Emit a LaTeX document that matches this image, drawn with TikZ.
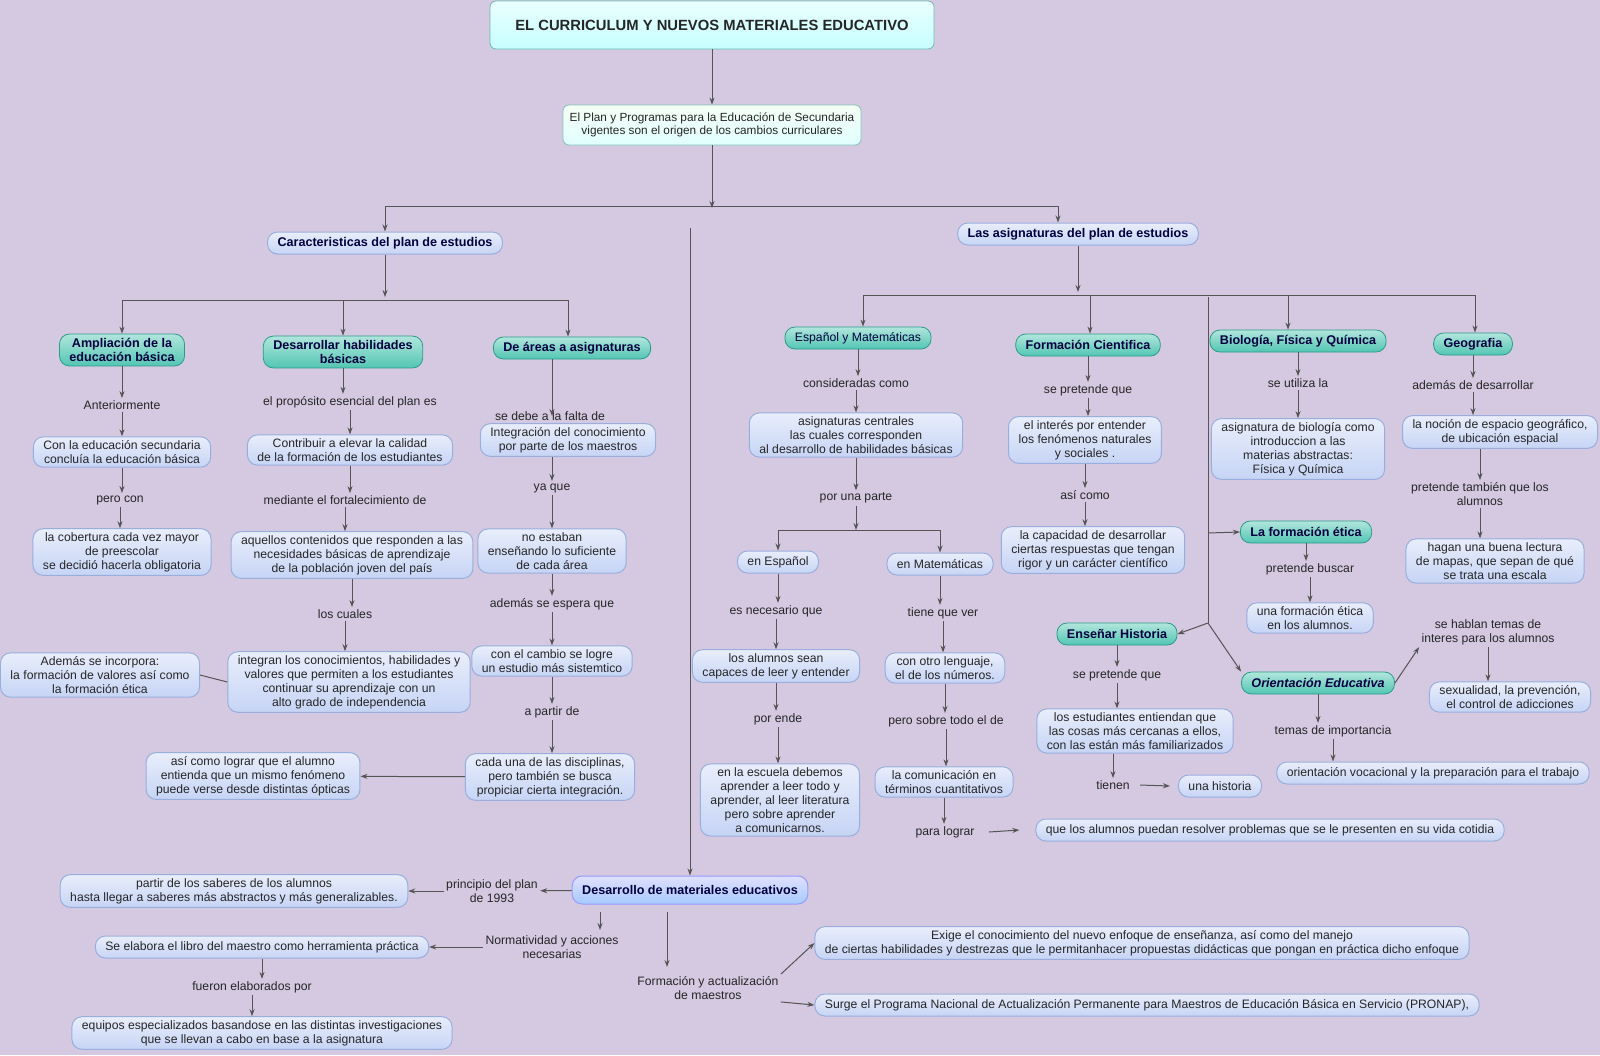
\documentclass[tikz,border=0pt]{standalone}
\usepackage{fontspec}
\setmainfont{Liberation Sans}
\usetikzlibrary{arrows.meta}
\definecolor{bg}{HTML}{D4C9E1}
\definecolor{bfill}{HTML}{C6D4F5}
\definecolor{bdraw}{HTML}{9AAEDD}
\definecolor{tfill}{HTML}{52C6B2}
\definecolor{tdraw}{HTML}{2B9C8A}
\definecolor{lcol}{HTML}{555555}
\newcommand{\va}[2]{\draw[arr] (#1.south) -- (#1.south |- #2.north);}
\begin{document}
\begin{tikzpicture}[x=0.5pt,y=-0.5pt,
  every node/.style={font=\fontsize{6.1}{7}\selectfont,align=center,text=black!85},
  box/.style={draw=bdraw,top color=bfill!40,bottom color=bfill,rounded corners=5pt,minimum height=11pt,inner xsep=5pt,inner ysep=1.8pt,line width=0.5pt},
  teal/.style={draw=tdraw,top color=tfill!45,bottom color=tfill,rounded corners=5pt,minimum height=11pt,inner xsep=5pt,inner ysep=2pt,font=\fontsize{6.3}{7.3}\selectfont\bfseries,text=blue!25!black},
  hdr/.style={box,font=\fontsize{6.3}{7.3}\selectfont\bfseries,text=blue!25!black},
  lbl/.style={inner sep=1pt},
  arr/.style={draw=lcol,line width=0.5pt,-{Stealth[length=3.5pt,width=2.5pt]}},
  ln/.style={draw=lcol,line width=0.5pt}]
\fill[bg] (0,0) rectangle (1600,1055);
\useasboundingbox (0,0) rectangle (1600,1055);
% top
\node[draw=tdraw!70,top color=cyan!8,bottom color=cyan!22!white,rounded corners=3pt,minimum width=222pt,minimum height=24pt,font=\fontsize{7.4}{9}\selectfont\bfseries] (title) at (712,25) {EL CURRICULUM Y NUEVOS MATERIALES EDUCATIVO};
\node[draw=tdraw!60,top color=green!4,bottom color=cyan!12!white,rounded corners=3pt,minimum width=142pt,minimum height=20pt,font=\fontsize{5.9}{6.8}\selectfont] (plan) at (712,125) {El Plan y Programas para la Educación de Secundaria\\vigentes son el origen de los cambios curriculares};
\coordinate (j1) at (712,208);
\coordinate (jl) at (385,206);
\coordinate (jr) at (1058,206);
\draw[arr] (title) -- (plan);
\draw[arr] (plan) -- (j1);
\draw[ln] (jl) -- (jr);
\node[hdr] (car) at (385,243) {Caracteristicas del plan de estudios};
\node[hdr] (asig) at (1078,234) {Las asignaturas del plan de estudios};
\draw[arr] (jl) -- (car);
\draw[arr] (jr) -- (jr |- asig.north);
\coordinate (vc) at (690,228);
\node[box,draw=blue!40,top color=blue!12,bottom color=cyan!40!blue!35,font=\fontsize{6.3}{7.3}\selectfont\bfseries,text=blue!25!black,minimum height=14pt] (desm) at (690,890) {Desarrollo de materiales educativos};
\draw[arr] (vc) -- (desm);
% left split
\coordinate (cl) at (122,300); \coordinate (cr) at (568,300); \coordinate (cm) at (343,300);
\coordinate (cj) at (385,297);
\draw[arr] (car) -- (cj);
\draw[ln] (cl) -- (cr);
\node[teal] (amp) at (122,350) {Ampliación de la\\educación básica};
\node[teal] (des) at (343,352) {Desarrollar habilidades\\básicas};
\node[teal] (are) at (572,348) {De áreas a asignaturas};
\draw[arr] (cl) -- (amp); \draw[arr] (cm) -- (des); \draw[arr] (cr) -- (cr |- are.north);
% col1
\node[lbl] (a1) at (122,405) {Anteriormente};
\node[box] (a2) at (122,452) {Con la educación secundaria\\concluía la educación básica};
\node[lbl] (a3) at (120,500) {pero con};
\node[box] (a4) at (122,552) {la cobertura cada vez mayor\\de preescolar\\se decidió hacerla obligatoria};
\va{amp}{a1} \va{a1}{a2} \va{a2}{a3} \va{a3}{a4}
% col2
\node[lbl] (b1) at (350,402) {el propósito esencial del plan es};
\node[box] (b2) at (350,450) {Contribuir a elevar la calidad\\de la formación de los estudiantes};
\node[lbl] (b3) at (345,500) {mediante el fortalecimiento de};
\node[box] (b4) at (352,555) {aquellos contenidos que responden a las\\necesidades básicas de aprendizaje\\de la población joven del país};
\node[lbl] (b5) at (345,614) {los cuales};
\node[box] (b6) at (349,682) {integran los conocimientos, habilidades y\\valores que permiten a los estudiantes\\continuar su aprendizaje con un\\alto grado de independencia};
\node[box] (b7) at (100,675) {Además se incorpora:\\la formación de valores así como\\la formación ética};
\va{des}{b1} \va{b1}{b2} \va{b2}{b3} \va{b3}{b4} \va{b4}{b5} \va{b5}{b6}
\draw[ln] (b6.west) -- (b7.east);
% col3
\node[box] (c2) at (568,440) {Integración del conocimiento\\por parte de los maestros};
\node[lbl] (c1) at (550,416) {se debe a la falta de};
\node[lbl] (c3) at (552,488) {ya que};
\node[box] (c4) at (552,551) {no estaban\\enseñando lo suficiente\\de cada área};
\node[lbl] (c5) at (552,604) {además se espera que};
\node[box] (c6) at (552,661) {con el cambio se logre\\un estudio más sistemtico};
\node[lbl] (c7) at (552,712) {a partir de};
\node[box] (c8) at (550,777) {cada una de las disciplinas,\\pero también se busca\\propiciar cierta integración.};
\node[box] (c9) at (253,776) {así como lograr que el alumno\\entienda que un mismo fenómeno\\puede verse desde distintas ópticas};
\coordinate (ca) at (552,400);
\draw[arr] (are.south -| ca) -- (ca |- c1.center);
\draw[arr] (c2.south -| c3) -- (c3.north); \va{c3}{c4} \va{c4}{c5} \va{c5}{c6} \va{c6}{c7} \va{c7}{c8}
\draw[arr] (c8) -- (c9);
% bottom
\node[lbl] (d1) at (492,891) {principio del plan\\de 1993};
\node[box] (d2) at (234,891) {partir de los saberes de los alumnos\\hasta llegar a saberes más abstractos y más generalizables.};
\draw[arr] (desm) -- (d1); \draw[arr] (d1) -- (d2);
\node[lbl] (d3) at (552,947) {Normatividad y acciones\\necesarias};
\node[lbl] (d4) at (708,988) {Formación y actualización\\de maestros};
\coordinate (n1) at (600,912); \coordinate (n2) at (600,930);
\coordinate (f1) at (667,912); \coordinate (f2) at (667,967);
\draw[arr] (n1) -- (n2); \draw[arr] (f1) -- (f2);
\node[box] (d5) at (262,947) {Se elabora el libro del maestro como herramienta práctica};
\draw[arr] (d3) -- (d5);
\node[lbl] (d6) at (252,987) {fueron elaborados por};
\node[box] (d7) at (262,1033) {equipos especializados basandose en las distintas investigaciones\\que se llevan a cabo en base a la asignatura};
\va{d5}{d6} \va{d6}{d7}
\node[box] (d8) at (1142,943) {Exige el conocimiento del nuevo enfoque de enseñanza, así como del manejo\\de ciertas habilidades y destrezas que le permitanhacer propuestas didácticas que pongan en práctica dicho enfoque};
\node[box] (d9) at (1147,1005) {Surge el Programa Nacional de Actualización Permanente para Maestros de Educación Básica en Servicio (PRONAP),};
\draw[arr] (d4.north east) -- (d8.west); \draw[arr] (d4.south east) -- (d9.west);
% right split
\coordinate (aj) at (1078,292);
\coordinate (rl) at (863,295); \coordinate (rr) at (1475,295);
\coordinate (r2) at (1090,295); \coordinate (r3) at (1288,295); \coordinate (rv) at (1208,297);
\draw[arr] (asig) -- (aj);
\draw[ln] (rl) -- (rr);
\node[teal,font=\fontsize{6.1}{7}\selectfont] (esp) at (858,338) {Español y Matemáticas};
\node[teal] (for) at (1088,345) {Formación Cientifica};
\node[teal] (bio) at (1298,341) {Biología, Física y Química};
\node[teal] (geo) at (1473,344) {Geografia};
\draw[arr] (rl) -- (rl |- esp.north); \draw[arr] (r2) -- (r2 |- for.north); \draw[arr] (r3) -- (r3 |- bio.north); \draw[arr] (rr) -- (rr |- geo.north);
\node[teal] (eti) at (1306,532) {La formación ética};
\node[teal] (his) at (1117,634) {Enseñar Historia};
\node[teal,font=\fontsize{6.3}{7.3}\selectfont\bfseries\itshape] (ori) at (1318,683) {Orientación Educativa};
\coordinate (rv2) at (1208,623);
\coordinate (rv3) at (1208,533);
\draw[ln] (rv) -- (rv2);
\draw[arr] (rv3) -- (eti.west);
\draw[arr] (rv2) -- (his.east);
\draw[arr] (rv2) -- (ori.north west);
% español
\node[lbl] (e1) at (856,383) {consideradas como};
\node[box] (e2) at (856,435) {asignaturas centrales\\las cuales corresponden\\al desarrollo de habilidades básicas};
\node[lbl] (e3) at (856,498) {por una parte};
\coordinate (sj) at (856,530); \coordinate (sl) at (778,530); \coordinate (sr) at (940,530);
\va{esp}{e1} \va{e1}{e2} \va{e2}{e3} \draw[arr] (e3) -- (sj);
\draw[ln] (sl) -- (sr);
\node[box] (es) at (778,562) {en Español};
\node[box] (em) at (940,564) {en Matemáticas};
\draw[arr] (sl) -- (es); \draw[arr] (sr) -- (em);
\node[lbl] (e4) at (776,611) {es necesario que};
\node[box] (e5) at (776,666) {los alumnos sean\\capaces de leer y entender};
\node[lbl] (e6) at (778,719) {por ende};
\node[box] (e7) at (780,800) {en la escuela debemos\\aprender a leer todo y\\aprender, al leer literatura\\pero sobre aprender\\a comunicarnos.};
\va{es}{e4} \va{e4}{e5} \va{e5}{e6} \va{e6}{e7}
\node[lbl] (m1) at (943,613) {tiene que ver};
\node[box] (m2) at (945,668) {con otro lenguaje,\\el de los números.};
\node[lbl] (m3) at (946,721) {pero sobre todo el de};
\node[box] (m4) at (944,782) {la comunicación en\\términos cuantitativos};
\node[lbl] (m5) at (945,832) {para lograr};
\node[box] (m6) at (1270,830) {que los alumnos puedan resolver problemas que se le presenten en su vida cotidia};
\va{em}{m1} \va{m1}{m2} \va{m2}{m3} \va{m3}{m4} \va{m4}{m5}
\draw[arr] ([xshift=6pt]m5.east) -- ([xshift=-8pt]m6.west);
% formacion
\node[lbl] (f3) at (1088,390) {se pretende que};
\node[box] (f4) at (1085,440) {el interés por entender\\los fenómenos naturales\\y sociales .};
\node[lbl] (f5) at (1085,495) {así como};
\node[box] (f6) at (1093,550) {la capacidad de desarrollar\\ciertas respuestas que tengan\\rigor y un carácter científico};
\va{for}{f3} \va{f3}{f4} \va{f4}{f5} \va{f5}{f6}
\node[lbl] (g1) at (1298,383) {se utiliza la};
\node[box] (g2) at (1298,449) {asignatura de biología como\\introduccion a las\\materias abstractas:\\Física y Química};
\va{bio}{g1} \va{g1}{g2}
\node[lbl] (g3) at (1310,569) {pretende buscar};
\node[box] (g4) at (1310,618) {una formación ética\\en los alumnos.};
\va{eti}{g3} \va{g3}{g4}
% historia
\node[lbl] (h1) at (1117,675) {se pretende que};
\node[box] (h2) at (1135,731) {los estudiantes entiendan que\\las cosas más cercanas a ellos,\\con las están más familiarizados};
\node[lbl] (h3) at (1113,785) {tienen};
\node[box] (h4) at (1220,786) {una historia};
\va{his}{h1} \va{h1}{h2} \draw[arr] (h2.south -| h3) -- (h3.north); \draw[arr] ([xshift=4pt]h3.east) -- ([xshift=-4pt]h4.west);
% orientacion
\node[lbl] (o1) at (1488,632) {se hablan temas de\\interes para los alumnos};
\node[box] (o2) at (1510,697) {sexualidad, la prevención,\\el control de adicciones};
\node[lbl] (o3) at (1333,731) {temas de importancia};
\node[box] (o4) at (1433,773) {orientación vocacional y la preparación para el trabajo};
\draw[arr] (ori.east) -- (o1.south west);
\draw[arr] (o1.south) -- (o1.south |- o2.north);
\va{ori}{o3} \va{o3}{o4}
% geografia
\node[lbl] (k1) at (1473,385) {además de desarrollar};
\node[box] (k2) at (1500,432) {la noción de espacio geográfico,\\de ubicación espacial};
\node[lbl] (k3) at (1480,494) {pretende también que los\\alumnos};
\node[box] (k4) at (1495,561) {hagan una buena lectura\\de mapas, que sepan de qué\\se trata una escala};
\va{geo}{k1} \va{k1}{k2} \draw[arr] (k2.south -| k3) -- (k3.north); \va{k3}{k4}
\end{tikzpicture}
\end{document}
